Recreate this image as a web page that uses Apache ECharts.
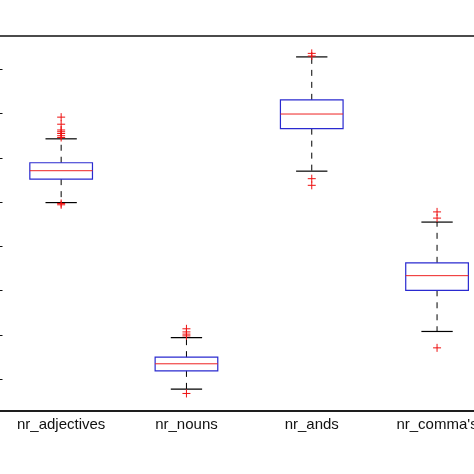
<!DOCTYPE html>
<html>
<head>
<meta charset="utf-8">
<script src="https://cdn.jsdelivr.net/npm/echarts@6/dist/echarts.min.js"></script>
<style>
html,body{margin:0;padding:0;background:#fff;overflow:hidden;width:474px;height:474px;}
#chart{width:504px;height:474px;margin-left:-2px;}
</style>
</head>
<body>
<div id="chart"></div>
<script>
const categories = ['nr_adjectives', 'nr_nouns', 'nr_ands', "nr_comma's"];
const lowerWhisker = [4.99, 0.78, 5.70, 2.08];
const q1 = [5.52, 1.19, 6.66, 3.01];
const median = [5.71, 1.35, 6.99, 3.34];
const q3 = [5.89, 1.50, 7.31, 3.63];
const upperWhisker = [6.43, 1.94, 8.28, 4.55];
const outliersAdjectives = [6.92, 6.76, 6.63, 6.59, 6.55, 6.50, 6.46, 4.97, 4.94];
const outliersNouns = [2.14, 2.07, 2.02, 1.98, 0.68];
const outliersAnds = [8.36, 8.30, 5.53, 5.38];
const outliersCommas = [4.78, 4.64, 1.71];
const yTicks = [1, 2, 3, 4, 5, 6, 7, 8];

const boxData = categories.map((c, i) => [i, lowerWhisker[i], q1[i], median[i], q3[i], upperWhisker[i]]);
const outlierData = [];
[outliersAdjectives, outliersNouns, outliersAnds, outliersCommas].forEach((arr, i) => {
  arr.forEach(v => outlierData.push([i, v]));
});

function renderBox(params, api) {
  const x = api.value(0);
  const lo = api.coord([x, api.value(1)]);
  const b1 = api.coord([x, api.value(2)]);
  const md = api.coord([x, api.value(3)]);
  const b3 = api.coord([x, api.value(4)]);
  const hi = api.coord([x, api.value(5)]);
  const band = api.size([1, 0])[0];
  const bw = band * 0.5, cw = band * 0.25;
  const cx = lo[0];
  const dash = {stroke: '#000', lineWidth: 1, lineDash: [6, 6]};
  const cap = {stroke: '#000', lineWidth: 1.2};
  return {
    type: 'group',
    children: [
      {type: 'line', shape: {x1: cx, y1: b3[1], x2: cx, y2: hi[1]}, style: dash},
      {type: 'line', shape: {x1: cx, y1: b1[1], x2: cx, y2: lo[1]}, style: dash},
      {type: 'line', shape: {x1: cx - cw / 2, y1: hi[1], x2: cx + cw / 2, y2: hi[1]}, style: cap},
      {type: 'line', shape: {x1: cx - cw / 2, y1: lo[1], x2: cx + cw / 2, y2: lo[1]}, style: cap},
      {type: 'rect', shape: {x: cx - bw / 2, y: b3[1], width: bw, height: b1[1] - b3[1]},
        style: {fill: 'none', stroke: '#2a2ad0', lineWidth: 1.2}},
      {type: 'line', shape: {x1: cx - bw / 2, y1: md[1], x2: cx + bw / 2, y2: md[1]},
        style: {stroke: '#ee2222', lineWidth: 1}}
    ]
  };
}

function renderPlus(params, api) {
  const p = api.coord([api.value(0), api.value(1)]);
  const h = 4;
  const st = {stroke: '#ee1111', lineWidth: 1};
  return {
    type: 'group',
    children: [
      {type: 'line', shape: {x1: p[0] - h, y1: p[1], x2: p[0] + h, y2: p[1]}, style: st},
      {type: 'line', shape: {x1: p[0], y1: p[1] - h, x2: p[0], y2: p[1] + h}, style: st}
    ]
  };
}

const chart = echarts.init(document.getElementById('chart'), null, {renderer: 'canvas', width: 504, height: 474});
chart.setOption({
  animation: false,
  backgroundColor: '#fff',
  grid: {
    left: 0.5, top: 36, width: 501.2, height: 375,
    show: true, borderColor: '#111', borderWidth: 1.5, backgroundColor: 'transparent'
  },
  xAxis: {
    type: 'category',
    data: categories,
    boundaryGap: true,
    axisLine: {show: true, lineStyle: {color: '#111', width: 1.5}},
    axisTick: {show: false},
    axisLabel: {color: '#111', fontSize: 15, fontFamily: 'Liberation Sans, Arial, sans-serif', margin: 6, interval: 0},
    splitLine: {show: false}
  },
  yAxis: {
    type: 'value',
    min: 0.284, max: 8.752,
    axisLine: {show: false},
    axisTick: {show: true, inside: true, length: 4, customValues: yTicks, lineStyle: {color: '#111', width: 1}},
    axisLabel: {show: false},
    splitLine: {show: false}
  },
  series: [
    {
      type: 'custom',
      renderItem: renderBox,
      encode: {x: 0, y: [1, 2, 3, 4, 5]},
      data: boxData,
      clip: false
    },
    {
      type: 'custom',
      renderItem: renderPlus,
      encode: {x: 0, y: 1},
      data: outlierData,
      clip: false
    }
  ]
});
</script>
</body>
</html>
